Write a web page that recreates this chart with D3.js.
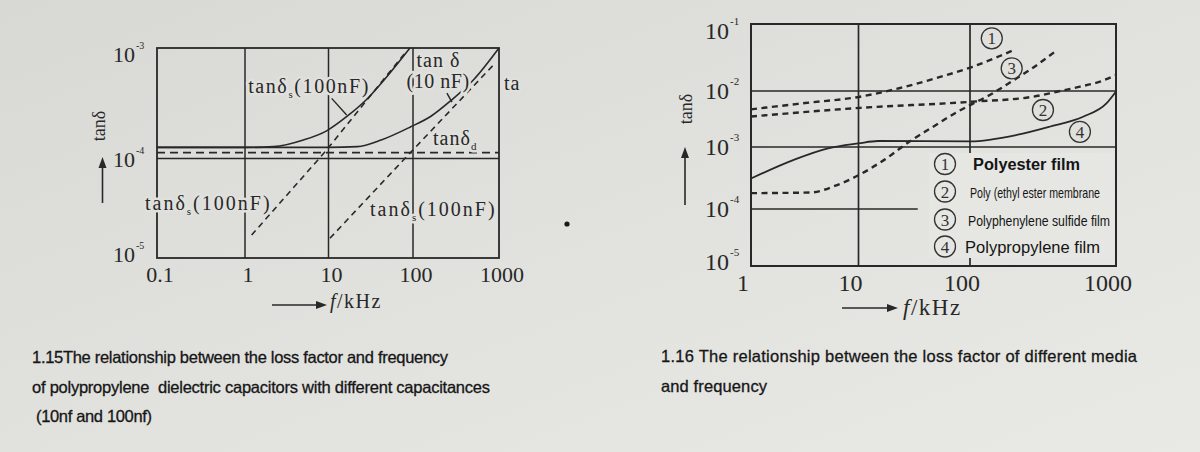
<!DOCTYPE html>
<html><head><meta charset="utf-8">
<script src="https://cdn.jsdelivr.net/npm/d3@7/dist/d3.min.js"></script>
<style>html,body{margin:0;padding:0;background:#e2e2df;overflow:hidden}</style>
</head><body>
<svg id="c" width="1200" height="452" xmlns="http://www.w3.org/2000/svg"></svg>
<script>
// ================= DATA : Fig. 1.15 =================
const fig115XTicks = [0.1, 1, 10, 100, 1000];
const fig115XLabels = ["0.1", "1", "10", "100", "1000"];
const fig115YTicks = [1e-5, 1e-4, 1e-3];
const fig115YExp = ["-5", "-4", "-3"];
// solid: total tanδ (100nF) and (10nF)
const tanTotal100nF = [[0.1,1.26e-4],[1,1.26e-4],[2.2,1.28e-4],[5,1.47e-4],[9.5,1.78e-4],[16.5,2.4e-4],[28,3.4e-4],[49,5.5e-4],[92,1e-3]];
const tanTotal10nF  = [[0.1,1.26e-4],[10,1.26e-4],[22,1.28e-4],[42,1.47e-4],[92,1.92e-4],[160,2.4e-4],[270,3.3e-4],[500,5.1e-4],[1000,1e-3]];
// dashed: series-resistance loss tanδs and dielectric loss tanδd
const tanS100nF = [[1.2,1.7e-5],[9.1,1.15e-4],[80,8.96e-4]];
const tanS10nF  = [[10.4,1.58e-5],[80,1.0e-4],[898,7.27e-4]];
const tanD      = [[0.1,1.13e-4],[1000,1.13e-4]];

// ================= DATA : Fig. 1.16 =================
const fig116XTicks = [1, 10, 100, 1000];
const fig116XLabels = ["1", "10", "100", "1000"];
const fig116YTicks = [1e-5, 1e-4, 1e-3, 1e-2, 1e-1];
const fig116YExp = ["-5", "-4", "-3", "-2", "-1"];
const polyester      = [[1,4.7e-3],[3.2,6.1e-3],[10.3,7.9e-3],[23.6,1.11e-2],[54,1.62e-2],[103,2.28e-2],[160,3.33e-2],[203,4.16e-2]];
const polyEthylEster = [[1,3.5e-3],[10.3,5.0e-3],[100,6.4e-3],[270,7.9e-3],[393,9.7e-3],[566,1.16e-2],[776,1.38e-2],[1000,1.73e-2]];
const polyphenylene  = [[1,1.8e-4],[3.6,1.85e-4],[6,2.35e-4],[10,3.5e-4],[17,6.2e-4],[30,1.33e-3],[45,2.2e-3],[78,4.3e-3],[100,5.6e-3],[130,7.9e-3],[200,1.46e-2],[260,2.1e-2],[390,4e-2]];
const polypropylene  = [[1,3.1e-4],[2.5,6.2e-4],[5.2,9.5e-4],[10,1.16e-3],[15,1.28e-3],[100,1.26e-3],[209,1.64e-3],[350,2.3e-3],[600,3.5e-3],[860,6e-3],[1000,9.8e-3]];
const partialGrid116 = [[1,1e-4],[34,1e-4]];
const legendNames = ["Polyester film", "Poly (ethyl ester membrane", "Polyphenylene sulfide film", "Polypropylene film"];
const seriesNumbers = ["1", "2", "3", "4"];

const caption115 = ["1.15The relationship between the loss factor and frequency",
                    "of polypropylene  dielectric capacitors with different capacitances",
                    "(10nf and 100nf)"];
const caption116 = ["1.16 The relationship between the loss factor of different media",
                    "and frequency"];

// ================= DRAWING =================
const INK = "#282828", HALO = "#e0e0dd";
const SERIF = "'Liberation Serif','Times New Roman',serif";
const SANS = "'Liberation Sans',Arial,sans-serif";
const svg = d3.select("#c");
const defs = svg.append("defs");
const grad = defs.append("linearGradient").attr("id","bg").attr("x1",0).attr("y1",0).attr("x2",1).attr("y2",1);
grad.append("stop").attr("offset",0).attr("stop-color","#d8d8d5");
grad.append("stop").attr("offset",0.5).attr("stop-color","#e1e1de");
grad.append("stop").attr("offset",1).attr("stop-color","#e9e9e6");
svg.append("rect").attr("width",1200).attr("height",452).attr("fill","url(#bg)");

function pathOf(xs, ys, data, curve) {
  return d3.line().x(d => xs(d[0])).y(d => ys(d[1])).curve(curve || d3.curveLinear)(data);
}
function powLabel(g, x, y, exp, size, supSize) {
  const t = g.append("text").attr("x", x).attr("y", y).attr("font-family", SERIF)
    .attr("font-size", size).attr("fill", INK);
  t.append("tspan").text("10");
  t.append("tspan").attr("font-size", supSize).attr("dy", -size*0.58).attr("dx", 1).text(exp);
}
function note(g, xs, ys, n) {
  const t = g.append("text").attr("x", xs(n.f)).attr("y", ys(n.v))
    .attr("font-family", SERIF).attr("font-size", n.size || 20)
    .attr("letter-spacing", n.ls == null ? 1.6 : n.ls)
    .attr("fill", INK).attr("stroke", HALO).attr("stroke-width", 5)
    .attr("stroke-linejoin", "round").attr("paint-order", "stroke");
  let low = false;
  n.parts.forEach(p => {
    const s = t.append("tspan").text(p[0]);
    if (p[1] === "sub") { s.attr("font-size", 11).attr("dy", 5); low = true; }
    else if (low) { s.attr("dy", -5); low = false; }
  });
}
function upArrow(g, x, y0, y1) {
  g.append("line").attr("x1", x).attr("x2", x).attr("y1", y0).attr("y2", y1 + 9)
    .attr("stroke", INK).attr("stroke-width", 1.6);
  g.append("path").attr("d", `M${x},${y1} L${x-4},${y1+11} L${x+4},${y1+11} Z`).attr("fill", INK);
}
function rightArrow(g, x0, x1, y) {
  g.append("line").attr("x1", x0).attr("x2", x1 - 9).attr("y1", y).attr("y2", y)
    .attr("stroke", INK).attr("stroke-width", 1.6);
  g.append("path").attr("d", `M${x1},${y} L${x1-11},${y-4} L${x1-11},${y+4} Z`).attr("fill", INK);
}
function xTitle(g, x, y, size) {
  const t = g.append("text").attr("x", x).attr("y", y).attr("font-family", SERIF)
    .attr("font-size", size).attr("letter-spacing", 1.5).attr("fill", INK);
  t.append("tspan").attr("font-style", "italic").text("f");
  t.append("tspan").text("/kHz");
}
function yTitle(g, x, y, size) {
  g.append("text").attr("transform", `translate(${x},${y}) rotate(-90)`)
    .attr("text-anchor", "middle").attr("font-family", SERIF).attr("font-size", size)
    .attr("fill", INK).text("tanδ");
}

// ---------- Fig 1.15 ----------
{
  const g = svg.append("g");
  const xs = d3.scaleLog().domain(fig115XTicks).range([157, 245, 328.5, 413, 499]);
  const ys = d3.scaleLog().domain(fig115YTicks).range([258, 158.5, 48]);
  const [L, R] = [xs(0.1), xs(1000)], [B, T] = [ys(1e-5), ys(1e-3)];
  [1, 10, 100].forEach(v => g.append("line").attr("x1", xs(v)).attr("x2", xs(v)).attr("y1", T).attr("y2", B)
    .attr("stroke", INK).attr("stroke-width", 1.5));
  g.append("line").attr("x1", L).attr("x2", R).attr("y1", ys(1e-4)).attr("y2", ys(1e-4))
    .attr("stroke", INK).attr("stroke-width", 1.5);
  g.append("rect").attr("x", L).attr("y", T).attr("width", R - L).attr("height", B - T)
    .attr("fill", "none").attr("stroke", INK).attr("stroke-width", 1.8);
  [tanTotal100nF, tanTotal10nF].forEach(d => g.append("path").attr("d", pathOf(xs, ys, d, d3.curveMonotoneX))
    .attr("fill", "none").attr("stroke", INK).attr("stroke-width", 1.6));
  [tanS100nF, tanS10nF].forEach(d => g.append("path").attr("d", pathOf(xs, ys, d))
    .attr("fill", "none").attr("stroke", INK).attr("stroke-width", 1.6).attr("stroke-dasharray", "6,4.5"));
  g.append("path").attr("d", pathOf(xs, ys, tanD)).attr("fill", "none").attr("stroke", INK)
    .attr("stroke-width", 1.6).attr("stroke-dasharray", "8,5");
  const notes = [
    {parts: [["tanδ"], ["s", "sub"], ["(100nF)"]], f: 1.09, v: 3.89e-4},
    {parts: [["tan δ"]], f: 110, v: 6.77e-4, ls: 1},
    {parts: [["(10 nF)"]], f: 84, v: 4.32e-4, ls: 0.5},
    {parts: [["ta"]], f: 1143, v: 4.17e-4, ls: 1},
    {parts: [["tanδ"], ["d", "sub"]], f: 171, v: 1.32e-4, ls: 1},
    {parts: [["tanδ"], ["s", "sub"], ["(100nF)"]], f: 31, v: 2.64e-5, ls: 2},
    {parts: [["tanδ"], ["s", "sub"], ["(100nF)"]], f: 0.073, v: 3.04e-5, ls: 2}
  ];
  notes.forEach(n => note(g, xs, ys, n));
  [[[10.9, 3.5e-4], [16.4, 2.48e-4]], [[248, 3.9e-4], [284, 3.24e-4]]].forEach(d =>
    g.append("path").attr("d", pathOf(xs, ys, d)).attr("stroke", INK).attr("stroke-width", 1.4).attr("fill", "none"));
  fig115XTicks.forEach((v, i) => g.append("text").attr("x", xs(v) + 3).attr("y", 282)
    .attr("text-anchor", "middle").attr("font-family", SERIF).attr("font-size", 22).attr("fill", INK)
    .text(fig115XLabels[i]));
  fig115YTicks.forEach((v, i) => powLabel(g, 113, Math.min(Math.max(ys(v) + 8, T + 14), B + 4), fig115YExp[i], 22, 10));
  rightArrow(g, 272, 327, 305);
  xTitle(g, 330, 308, 20);
  yTitle(g, 105, 126, 18);
  upArrow(g, 102.5, 203, 157);
}

// dot on the page between the figures
svg.append("circle").attr("cx", 567).attr("cy", 224).attr("r", 2.6).attr("fill", "#1a1a1a");

// ---------- Fig 1.16 ----------
{
  const g = svg.append("g");
  const xs = d3.scaleLog().domain(fig116XTicks).range([751, 858.5, 970, 1116]);
  const ys = d3.scaleLog().domain(fig116YTicks).range([266, 209, 147, 91, 24]);
  const [L, R] = [xs(1), xs(1000)], [B, T] = [ys(1e-5), ys(1e-1)];
  [10, 100].forEach(v => g.append("line").attr("x1", xs(v)).attr("x2", xs(v)).attr("y1", T).attr("y2", B)
    .attr("stroke", INK).attr("stroke-width", 1.7));
  [1e-3, 1e-2].forEach(v => g.append("line").attr("x1", L).attr("x2", R).attr("y1", ys(v)).attr("y2", ys(v))
    .attr("stroke", INK).attr("stroke-width", 1.7));
  g.append("path").attr("d", pathOf(xs, ys, partialGrid116)).attr("stroke", INK).attr("stroke-width", 1.7);
  g.append("path").attr("d", pathOf(xs, ys, polypropylene, d3.curveMonotoneX))
    .attr("fill", "none").attr("stroke", INK).attr("stroke-width", 1.8);
  [polyester, polyEthylEster, polyphenylene].forEach(d => g.append("path").attr("d", pathOf(xs, ys, d, d3.curveMonotoneX))
    .attr("fill", "none").attr("stroke", INK).attr("stroke-width", 2.4).attr("stroke-dasharray", "6,4.5"));
  const lg = g.append("g");
  lg.append("rect").attr("x", 929).attr("y", 153).attr("width", 185).attr("height", 105).attr("fill", "#e6e6e3");
  g.append("rect").attr("x", L).attr("y", T).attr("width", R - L).attr("height", B - T)
    .attr("fill", "none").attr("stroke", INK).attr("stroke-width", 2);
  const marks = [[141, 0.0612], [316, 4.58e-3], [193, 0.0218], [566, 1.87e-3]];
  marks.forEach((m, i) => {
    g.append("circle").attr("cx", xs(m[0])).attr("cy", ys(m[1])).attr("r", 10.5)
      .attr("fill", HALO).attr("stroke", "#333").attr("stroke-width", 1.3);
    g.append("text").attr("x", xs(m[0])).attr("y", ys(m[1]) + 6).attr("text-anchor", "middle")
      .attr("font-family", SERIF).attr("font-size", 17).attr("fill", "#333").text(seriesNumbers[i]);
  });
  const ly = [164, 191.5, 219.5, 246.5];
  const tx = [973, 970, 968, 965];
  const tl = [107, 130, 142, 135];
  const fs = [16, 14.5, 14.5, 17];
  const fw = [600, 400, 400, 500];
  legendNames.forEach((name, i) => {
    lg.append("circle").attr("cx", 945).attr("cy", ly[i]).attr("r", 10.5)
      .attr("fill", "none").attr("stroke", "#333").attr("stroke-width", 1.3);
    lg.append("text").attr("x", 945).attr("y", ly[i] + 6).attr("text-anchor", "middle")
      .attr("font-family", SERIF).attr("font-size", 17).attr("fill", "#333").text(seriesNumbers[i]);
    lg.append("text").attr("x", tx[i]).attr("y", ly[i] + 6).attr("font-family", SANS)
      .attr("font-size", fs[i]).attr("font-weight", fw[i]).attr("fill", "#151515")
      .attr("textLength", tl[i]).attr("lengthAdjust", "spacingAndGlyphs").text(name);
  });
  fig116XTicks.forEach((v, i) => g.append("text").attr("x", xs(v) - 8).attr("y", 291)
    .attr("text-anchor", "middle").attr("font-family", SERIF).attr("font-size", 24).attr("fill", INK)
    .text(fig116XLabels[i]));
  fig116YTicks.forEach((v, i) => powLabel(g, 705, Math.min(Math.max(ys(v) + 8, T + 15), B + 4), fig116YExp[i], 24, 11));
  rightArrow(g, 842, 898, 308);
  xTitle(g, 903, 315, 23);
  yTitle(g, 692, 109, 18);
  upArrow(g, 685, 205, 147);
}

// ---------- captions ----------
const capStyle = (t) => t.attr("font-family", SANS).attr("font-size", 16.5).attr("fill", "#161616")
  .attr("stroke", "#161616").attr("stroke-width", 0.3).style("white-space", "pre");
const cap1Len = [416, 458, 116];
const cap1X = [32, 32, 36];
caption115.forEach((s, i) => capStyle(svg.append("text")).attr("x", cap1X[i]).attr("y", 363 + i * 29.5)
  .attr("textLength", cap1Len[i]).attr("lengthAdjust", "spacing").text(s));
const cap2Len = [476, 106];
caption116.forEach((s, i) => capStyle(svg.append("text")).attr("x", 661).attr("y", 362 + i * 29.5)
  .attr("textLength", cap2Len[i]).attr("lengthAdjust", "spacing").text(s));
</script>
</body></html>
